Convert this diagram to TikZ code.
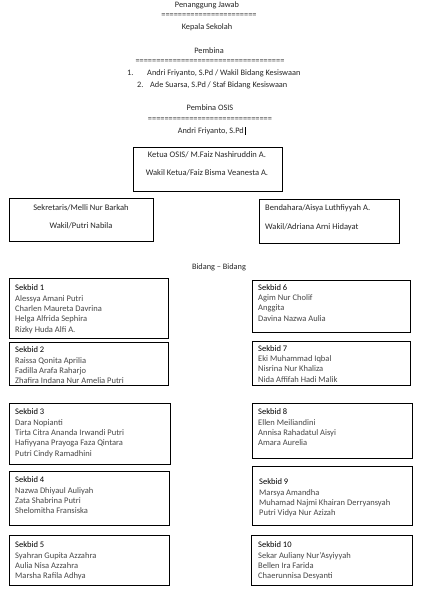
\documentclass[tikz,border=0pt]{standalone}
\usepackage{fontspec}
\setmainfont{Carlito}
\newcommand{\sbt}[1]{\textcolor{black}{#1}}
\begin{document}
\begin{tikzpicture}[x=1pt,y=-1pt,
  txt/.style={inner sep=0pt, font=\fontsize{8.3}{10.4}\selectfont, text=black!85},
  btxt/.style={txt, font=\fontsize{8.5}{10.4}\selectfont},
  frame/.style={draw, line width=0.8pt, inner sep=0pt, anchor=north west},
  list/.style={btxt, align=left, anchor=north west, text=black!72}]
\useasboundingbox[fill=white] (0,0) rectangle (429,594);

% header texts
\node[txt] (pj) at (207,5) {Penanggung Jawab};
\node[txt] (eq1) at (209,16) {=======================};
\node[txt] (ks) at (207,27) {Kepala Sekolah};
\node[txt] (pb) at (209,51) {Pembina};
\node[txt] (eq2) at (210,62) {====================================};
\node[txt, anchor=west] (pb1) at (127,73) {\makebox[20pt][l]{1.}Andri Friyanto, S.Pd / Wakil Bidang Kesiswaan};
\node[txt, anchor=west] (pb2) at (137,85) {\makebox[13pt][l]{2.}Ade Suarsa, S.Pd / Staf Bidang Kesiswaan};
\node[txt] (po) at (210,108) {Pembina OSIS};
\node[txt] (eq3) at (210,120) {==============================};
\node[txt, anchor=east] (af) at (244,131) {Andri Friyanto, S.Pd};
\draw[line width=0.6pt] ([xshift=1pt]af.north east) -- ([xshift=1pt]af.south east);

% ketua
\node[frame, minimum width=149pt, minimum height=44pt] (ketua) at (133,147) {};
\node[btxt] (k1) at (207,155) {Ketua OSIS/ M.Faiz Nashiruddin A.};
\node[btxt] (k2) at (207,173) {Wakil Ketua/Faiz Bisma Veanesta A.};

% sekretaris
\node[frame, minimum width=144pt, minimum height=43pt] (sek) at (9,198) {};
\node[btxt] (sk1) at (81,208) {Sekretaris/Melli Nur Barkah};
\node[btxt] (sk2) at (81,226) {Wakil/Putri Nabila};

% bendahara
\node[frame, minimum width=140pt, minimum height=44pt] (ben) at (259,199) {};
\node[btxt, anchor=west] (bn1) at (265,208) {Bendahara/Aisya Luthfiyyah A.};
\node[btxt, anchor=west] (bn2) at (265,227) {Wakil/Adriana Arni Hidayat};

\node[txt] (bid) at (219,267) {Bidang -- Bidang};

% sekbid boxes
\node[frame, minimum width=159pt, minimum height=60pt] (s1) at (9,278) {};
\node[frame, minimum width=159pt, minimum height=43pt] (s2) at (9,342) {};
\node[frame, minimum width=161pt, minimum height=61pt] (s3) at (9,403) {};
\node[frame, minimum width=160pt, minimum height=54pt] (s4) at (9,471) {};
\node[frame, minimum width=160pt, minimum height=50pt] (s5) at (9,535) {};
\node[frame, minimum width=158pt, minimum height=52pt] (s6) at (252,280) {};
\node[frame, minimum width=158pt, minimum height=44pt] (s7) at (252,341) {};
\node[frame, minimum width=160pt, minimum height=55pt] (s8) at (252,403) {};
\node[frame, minimum width=160pt, minimum height=59pt] (s9) at (252,466) {};
\node[frame, minimum width=161pt, minimum height=50pt] (s10) at (251,535) {};

\node[list] (t1) at (15,284.5) {\sbt{Sekbid 1}\\Alessya Amani Putri\\Charlen Maureta Davrina\\Helga Alfrida Sephira\\Rizky Huda Alfi A.};
\node[list] (t2) at (15,346.5) {\sbt{Sekbid 2}\\Raissa Qonita Aprilia\\Fadilla Arafa Raharjo\\Zhafira Indana Nur Amelia Putri};
\node[list] (t3) at (15,408.5) {\sbt{Sekbid 3}\\Dara Nopianti\\Tirta Citra Ananda Irwandi Putri\\Hafiyyana Prayoga Faza Qintara\\Putri Cindy Ramadhini};
\node[list] (t4) at (15,476.5) {\sbt{Sekbid 4}\\Nazwa Dhiyaul Auliyah\\Zata Shabrina Putri\\Shelomitha Fransiska};
\node[list] (t5) at (15,541.5) {\sbt{Sekbid 5}\\Syahran Gupita Azzahra\\Aulia Nisa Azzahra\\Marsha Rafila Adhya};
\node[list] (t6) at (258,284) {\sbt{Sekbid 6}\\Agim Nur Cholif\\Anggita\\Davina Nazwa Aulia};
\node[list] (t7) at (258,345) {\sbt{Sekbid 7}\\Eki Muhammad Iqbal\\Nisrina Nur Khaliza\\Nida Affifah Hadi Malik};
\node[list] (t8) at (258,408.5) {\sbt{Sekbid 8}\\Ellen Meiliandini\\Annisa Rahadatul Aisyi\\Amara Aurelia};
\node[list] (t9) at (259,478.5) {\sbt{Sekbid 9}\\Marsya Amandha\\Muhamad Najmi Khairan Derryansyah\\Putri Vidya Nur Azizah};
\node[list] (t10) at (258,541.5) {\sbt{Sekbid 10}\\Sekar Auliany Nur’Asyiyyah\\Bellen Ira Farida\\Chaerunnisa Desyanti};
\end{tikzpicture}
\end{document}
